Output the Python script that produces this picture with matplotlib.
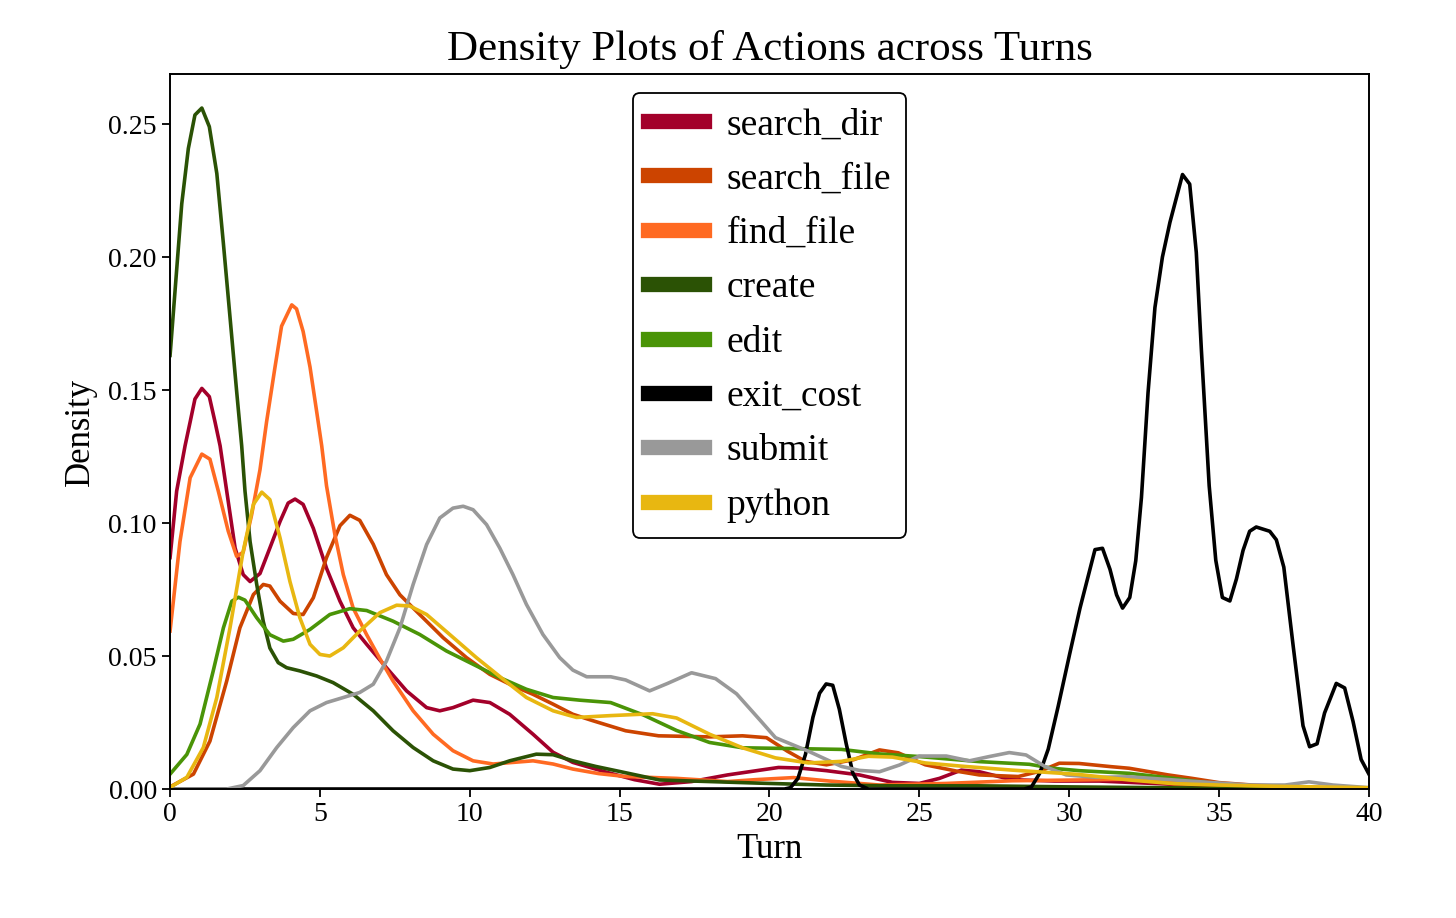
import matplotlib
matplotlib.use("Agg")
import matplotlib.pyplot as plt
from matplotlib.ticker import FormatStrFormatter

plt.rcParams['font.family'] = ['Liberation Serif', 'DejaVu Serif']

# values (turn, density)
search_dir_x = [0, 0.22, 0.5, 0.67, 0.83, 1.06, 1.31, 1.5, 1.67, 1.89, 2.17, 2.44, 2.67, 3.0, 3.33,
                3.67, 3.94, 4.17, 4.44, 4.78, 5.22, 5.67, 6.11, 6.56, 7.22, 7.89, 8.56, 9.0, 9.44,
                10.11, 10.67, 11.33, 12.11, 12.78, 13.44, 14.5, 15.5, 16.33, 17.4, 18.6, 20.3, 21.0,
                21.9, 23.0, 24.1, 25.0, 25.67, 26.4, 27.0, 27.9, 28.4, 29.5, 31, 33, 35, 37, 40]
search_dir_y = [0.087, 0.112, 0.129, 0.138, 0.1466, 0.1506, 0.1475, 0.138, 0.129, 0.112, 0.0906,
                0.0806, 0.078, 0.081, 0.0906, 0.1006, 0.1075, 0.109, 0.107, 0.098, 0.083, 0.0706,
                0.0606, 0.0544, 0.0456, 0.0369, 0.0306, 0.0294, 0.0306, 0.0334, 0.0325, 0.0281,
                0.0206, 0.0138, 0.010, 0.0065, 0.0035, 0.0018, 0.0028, 0.0053, 0.0081, 0.0079,
                0.0069, 0.0053, 0.0025, 0.0021, 0.004, 0.0071, 0.0065, 0.004, 0.0034, 0.003, 0.003,
                0.002, 0.001, 0.0005, 0.0]

search_file_x = [0, 0.78, 1.33, 1.89, 2.33, 2.78, 3.11, 3.33, 3.67, 4.11, 4.44, 4.78, 5.22, 5.67,
                 6.0, 6.33, 6.78, 7.22, 7.67, 8.33, 9.11, 9.89, 10.67, 11.44, 12.11, 12.78, 13.44,
                 14.1, 15.2, 16.3, 18.0, 19.1, 19.9, 20.6, 21.2, 21.9, 22.8, 23.67, 24.3, 25.2, 26.3,
                 27.0, 28.3, 29.0, 29.67, 30.33, 31.4, 32.0, 33.3, 34.1, 35.0, 36.1, 37.2, 40]
search_file_y = [0.0008, 0.0056, 0.018, 0.0406, 0.0606, 0.0731, 0.0769, 0.0763, 0.0706, 0.066,
                 0.0656, 0.0719, 0.087, 0.099, 0.1029, 0.101, 0.092, 0.0806, 0.073, 0.0656, 0.0569,
                 0.0494, 0.0431, 0.0388, 0.0356, 0.0319, 0.0281, 0.0257, 0.0219, 0.020, 0.0196,
                 0.020, 0.0193, 0.0142, 0.0104, 0.0091, 0.011, 0.0147, 0.0136, 0.0091, 0.0066,
                 0.0053, 0.0047, 0.0066, 0.0097, 0.0096, 0.0084, 0.0078, 0.0053, 0.004, 0.0024,
                 0.0015, 0.001, 0.0]

find_file_x = [0, 0.33, 0.67, 1.06, 1.33, 1.61, 1.94, 2.22, 2.44, 2.72, 3.0, 3.22, 3.5, 3.72, 4.06,
               4.22, 4.44, 4.67, 4.89, 5.06, 5.22, 5.5, 5.78, 6.11, 6.56, 7.0, 7.44, 8.11, 8.78,
               9.44, 10.11, 10.78, 11.44, 12.11, 12.78, 13.44, 14.3, 15.2, 16.9, 18.6, 19.5, 20.8,
               22, 23.67, 25.9, 28.1, 30.3, 32, 34, 36, 40]
find_file_y = [0.0594, 0.093, 0.117, 0.1259, 0.124, 0.112, 0.097, 0.0875, 0.089, 0.103, 0.12,
               0.138, 0.1585, 0.174, 0.182, 0.1805, 0.172, 0.1586, 0.142, 0.129, 0.114, 0.0956,
               0.0806, 0.068, 0.058, 0.049, 0.0406, 0.0294, 0.0206, 0.0144, 0.0106, 0.0094, 0.010,
               0.0106, 0.0094, 0.0075, 0.0058, 0.0047, 0.004, 0.0028, 0.0035, 0.0043, 0.003,
               0.0015, 0.0021, 0.0031, 0.0034, 0.0037, 0.002, 0.001, 0.0]

create_x = [0, 0.39, 0.61, 0.83, 1.06, 1.31, 1.56, 1.78, 2.0, 2.22, 2.39, 2.5, 2.67, 2.89, 3.11,
            3.33, 3.61, 3.89, 4.33, 4.89, 5.44, 6.11, 6.78, 7.44, 8.11, 8.78, 9.44, 10.0, 10.67,
            11.33, 12.22, 12.78, 13.44, 14.2, 15, 16.33, 18, 19.67, 21.9, 24.1, 27, 30, 35, 40]
create_y = [0.163, 0.220, 0.2408, 0.2534, 0.256, 0.249, 0.2314, 0.205, 0.1774, 0.1497, 0.129,
            0.112, 0.093, 0.077, 0.063, 0.053, 0.0475, 0.0456, 0.0444, 0.0425, 0.040, 0.0356,
            0.0294, 0.0219, 0.0156, 0.0106, 0.0075, 0.0069, 0.0081, 0.0106, 0.0131, 0.0129,
            0.0106, 0.0085, 0.0066, 0.0034, 0.0028, 0.0022, 0.0015, 0.0012, 0.0012, 0.0008,
            0.0003, 0.0]

edit_x = [0, 0.56, 1.0, 1.44, 1.78, 2.06, 2.28, 2.5, 2.89, 3.33, 3.78, 4.11, 4.67, 5.33, 6.0, 6.56,
          7.44, 8.33, 9.22, 10.11, 11.0, 11.89, 12.78, 13.67, 14.7, 15.8, 16.9, 18.0, 19.1, 20.8,
          22.4, 23.67, 25.0, 27.0, 28.67, 29.44, 30.33, 32.0, 33.5, 35, 37, 40]
edit_y = [0.0056, 0.013, 0.0244, 0.0444, 0.0606, 0.0706, 0.0721, 0.071, 0.0644, 0.058, 0.0556,
          0.0563, 0.060, 0.0656, 0.0678, 0.0671, 0.0631, 0.0581, 0.0519, 0.0469, 0.0419, 0.0375,
          0.0344, 0.0334, 0.0325, 0.0278, 0.022, 0.0175, 0.0155, 0.0152, 0.0149, 0.0132, 0.0122,
          0.0103, 0.0093, 0.0078, 0.0069, 0.0059, 0.004, 0.0018, 0.0008, 0.0]

exit_cost_x = [0, 20.5, 20.7, 20.95, 21.2, 21.45, 21.67, 21.89, 22.11, 22.33, 22.56, 22.78, 23.0,
               23.3, 28.5, 28.74, 29.02, 29.3, 29.63, 30.02, 30.36, 30.86, 31.11, 31.36, 31.58,
               31.78, 32.02, 32.22, 32.41, 32.63, 32.86, 33.11, 33.36, 33.78, 34.02, 34.24, 34.41,
               34.67, 34.89, 35.11, 35.36, 35.58, 35.8, 36.02, 36.24, 36.69, 36.91, 37.16, 37.47,
               37.8, 38.02, 38.27, 38.52, 38.91, 39.19, 39.47, 39.74, 40.0]
exit_cost_y = [0, 0, 0.0005, 0.004, 0.013, 0.027, 0.036, 0.0395, 0.039, 0.030, 0.017, 0.006,
               0.0015, 0, 0, 0.0008, 0.006, 0.015, 0.031, 0.051, 0.068, 0.090, 0.0905, 0.0826,
               0.073, 0.068, 0.072, 0.0858, 0.1096, 0.149, 0.181, 0.200, 0.213, 0.231, 0.2274,
               0.2017, 0.165, 0.114, 0.086, 0.072, 0.0707, 0.079, 0.0897, 0.0969, 0.0985, 0.0969,
               0.0937, 0.0834, 0.054, 0.0238, 0.0159, 0.017, 0.0286, 0.0397, 0.038, 0.0254,
               0.0111, 0.0056]

submit_x = [0, 1.89, 2.44, 3.0, 3.56, 4.11, 4.67, 5.22, 5.78, 6.33, 6.78, 7.22, 7.67, 8.11, 8.56,
            9.0, 9.44, 9.78, 10.11, 10.56, 11.0, 11.44, 11.89, 12.44, 13.0, 13.44, 13.9, 14.7,
            15.2, 16.0, 16.6, 17.4, 18.2, 18.9, 19.7, 20.2, 21.3, 22.4, 23.0, 23.67, 24.33, 25.0,
            25.9, 26.67, 27.33, 28.0, 28.56, 29.2, 29.9, 30.9, 32, 34, 36, 37.2, 38.0, 38.8, 40]
submit_y = [0, 0, 0.0013, 0.0069, 0.0156, 0.0231, 0.0294, 0.0325, 0.0344, 0.0363, 0.0394, 0.0481,
            0.0606, 0.0769, 0.0919, 0.1019, 0.1056, 0.1063, 0.105, 0.0994, 0.0906, 0.0806,
            0.0694, 0.0581, 0.0494, 0.0447, 0.0422, 0.0422, 0.041, 0.0369, 0.0397, 0.0437,
            0.0415, 0.0358, 0.0257, 0.0193, 0.0142, 0.0085, 0.007, 0.0065, 0.009, 0.0124,
            0.0124, 0.0106, 0.0122, 0.0137, 0.0128, 0.0084, 0.0053, 0.0044, 0.0046, 0.003,
            0.0015, 0.0015, 0.0027, 0.0015, 0.0005]

python_x = [0, 0.56, 1.11, 1.56, 2.0, 2.44, 2.78, 3.06, 3.33, 3.67, 4.0, 4.33, 4.67, 5.0, 5.33,
            5.78, 6.33, 7.0, 7.56, 8.0, 8.56, 9.33, 10.22, 11.11, 11.89, 12.78, 13.56, 14.7, 16.1,
            16.9, 18.0, 19.1, 20.2, 21.3, 22.4, 23.3, 24.1, 25.2, 26.4, 28.1, 29.2, 30.3, 32,
            33.5, 35, 37, 40]
python_y = [0.0006, 0.0044, 0.0156, 0.0344, 0.0606, 0.0894, 0.107, 0.1116, 0.1088, 0.0944, 0.078,
            0.0644, 0.0544, 0.0506, 0.050, 0.0531, 0.0594, 0.0663, 0.0691, 0.0688, 0.0656,
            0.0581, 0.0494, 0.0413, 0.0344, 0.0294, 0.0269, 0.0276, 0.0283, 0.0267, 0.0206,
            0.0155, 0.0117, 0.0098, 0.0104, 0.0123, 0.012, 0.0098, 0.0086, 0.0071, 0.0063,
            0.0055, 0.0034, 0.002, 0.0015, 0.001, 0.0005]

actions = ['search_dir', 'search_file', 'find_file', 'create', 'edit', 'exit_cost', 'submit', 'python']
xs = [search_dir_x, search_file_x, find_file_x, create_x, edit_x, exit_cost_x, submit_x, python_x]
ys = [search_dir_y, search_file_y, find_file_y, create_y, edit_y, exit_cost_y, submit_y, python_y]
colors = ['#a3002a', '#cc4400', '#ff6a22', '#2b5205', '#4a9407', '#000000', '#999999', '#e8b711']

fig = plt.figure(figsize=(14.56, 9.18), dpi=100)
ax = fig.add_axes([0.1168, 0.1405, 0.8234, 0.7789])

for name, x, y, c in zip(actions, xs, ys, colors):
    ax.plot(x, y, color=c, lw=2.6, label=name)

ax.set_xlim(0, 40)
ax.set_ylim(0, 0.2688)
ax.set_yticks([0, 0.05, 0.10, 0.15, 0.20, 0.25])
ax.yaxis.set_major_formatter(FormatStrFormatter('%.2f'))
ax.tick_params(labelsize=20, width=1.3, length=6)
for s in ax.spines.values():
    s.set_linewidth(1.4)

ax.set_title('Density Plots of Actions across Turns', fontsize=31, pad=10)
ax.set_xlabel('Turn', fontsize=25, labelpad=4)
ax.set_ylabel('Density', fontsize=25, labelpad=8)

leg = ax.legend(loc='upper center', fontsize=27, handlelength=1.5, handletextpad=0.6,
                labelspacing=0.53, framealpha=1, edgecolor='black', fancybox=True,
                borderaxespad=0.5, borderpad=0.4)
leg.get_frame().set_linewidth(1.3)
for h in leg.get_lines():
    h.set_linewidth(11)

fig.savefig('out.png', dpi=100)
